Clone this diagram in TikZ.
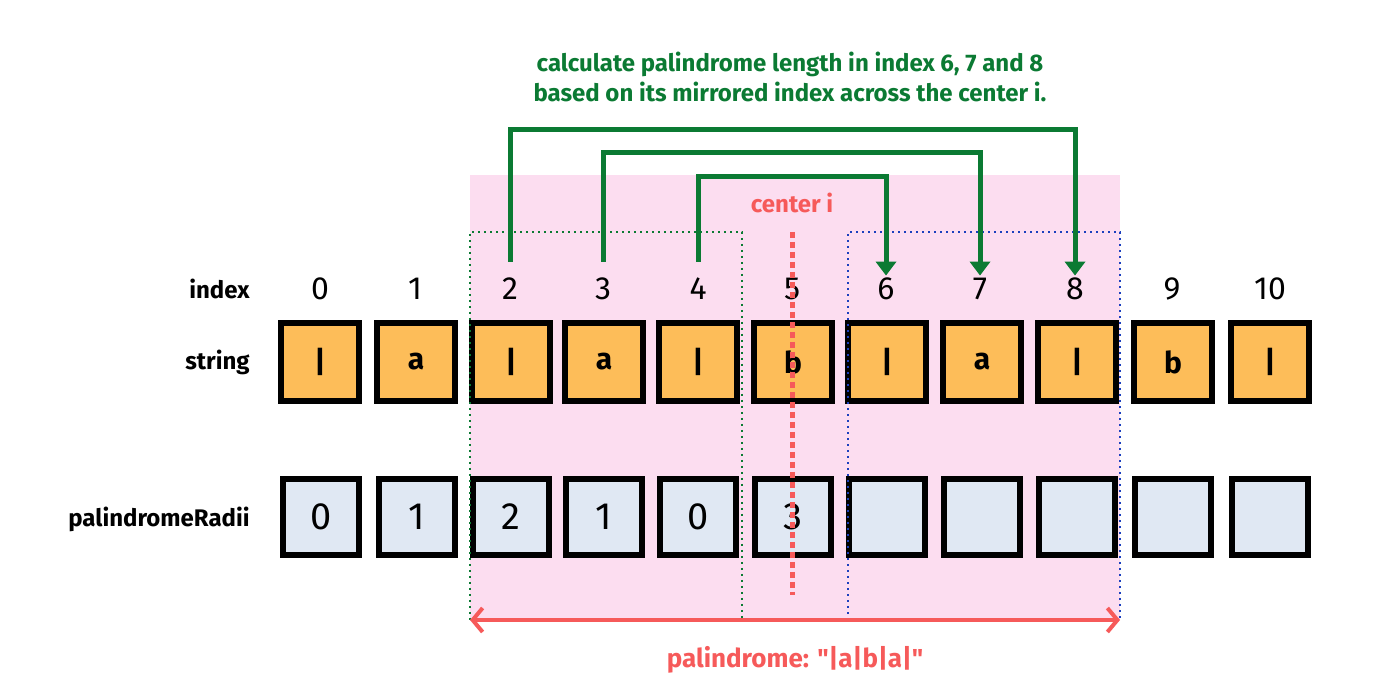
\documentclass[tikz,border=0pt]{standalone}
\usepackage{fontspec}
\setmainfont{Fira Sans}[Ligatures=TeXOff]
\usetikzlibrary{positioning}
\usetikzlibrary{arrows.meta}
\definecolor{boxorange}{HTML}{FDBD59}
\definecolor{boxgray}{HTML}{E0E8F3}
\definecolor{palpink}{HTML}{FCDDF0}
\definecolor{hintgreen}{HTML}{0B7A33}
\definecolor{centerred}{HTML}{F65A5A}
\definecolor{rightblue}{HTML}{1B3FBE}
\tikzset{
	strbox/.style={draw, line width=3pt, fill=boxorange, minimum size=39pt, inner sep=0pt, font=\fontsize{15}{15}\selectfont\bfseries},
	radbox/.style={draw, line width=3pt, fill=boxgray, minimum size=38pt, inner sep=0pt, font=\fontsize{19}{19}\selectfont},
	idx/.style={minimum height=27pt, inner sep=0pt, font=\fontsize{16}{16}\selectfont},
	rowlabel/.style={anchor=east, inner sep=0pt, font=\fontsize{12}{12}\selectfont\bfseries},
	mirror/.style={draw=hintgreen, line width=2.5pt, -{Triangle[width=10pt,length=7pt]}, shorten >=-7pt}
}

\begin{document}
\begin{tikzpicture}[x=0.5pt, y=0.5pt]
				\useasboundingbox (0,0) rectangle (1400,700);
				
				% palindrome around the center
				\fill[palpink] (470,80) rectangle (1120,525);
				
				\node[align=center, text=hintgreen, font=\fontsize{12}{15}\selectfont\bfseries] (hint) at (790,623) {calculate palindrome length in index 6, 7 and 8\\based on its mirrored index across the center i.};
				\node[text=centerred, font=\fontsize{12}{12}\selectfont\bfseries] (ctr) at (792,497) {center i};
				
				\node[rowlabel] (lidx) at (250,411) {index};
				\node[rowlabel] (lstr) at (250,338) {string};
				\node[rowlabel] (lrad) at (250,181) {palindromeRadii};
				
				\node[idx] (i0) at (320,411) {0};
				\node[idx] (i1) at (415,411) {1};
				\node[idx] (i2) at (510,411) {2};
				\node[idx] (i3) at (603,411) {3};
				\node[idx] (i4) at (698,411) {4};
				\node[idx] (i5) at (792,411) {5};
				\node[idx] (i6) at (886,411) {6};
				\node[idx] (i7) at (980,411) {7};
				\node[idx] (i8) at (1075,411) {8};
				\node[idx] (i9) at (1172,411) {9};
				\node[idx] (i10) at (1270,411) {10};
				
				\node[strbox] (s0) at (320,338) {|};
				\node[strbox] (s1) at (416,338) {a};
				\node[strbox] (s2) at (511,338) {|};
				\node[strbox] (s3) at (604,338) {a};
				\node[strbox] (s4) at (698,338) {|};
				\node[strbox] (s5) at (793,338) {b};
				\node[strbox] (s6) at (887,338) {|};
				\node[strbox] (s7) at (982,338) {a};
				\node[strbox] (s8) at (1077,338) {|};
				\node[strbox] (s9) at (1173,338) {b};
				\node[strbox] (s10) at (1270,338) {|};
				
				\node[radbox] (r0) at (321,183) {0};
				\node[radbox] (r1) at (417,183) {1};
				\node[radbox] (r2) at (511,183) {2};
				\node[radbox] (r3) at (604,183) {1};
				\node[radbox] (r4) at (698,183) {0};
				\node[radbox] (r5) at (793,183) {3};
				\node[radbox] (r6) at (887,183) {};
				\node[radbox] (r7) at (982,183) {};
				\node[radbox] (r8) at (1077,183) {};
				\node[radbox] (r9) at (1173,183) {};
				\node[radbox] (r10) at (1270,183) {};
				
				% left and right halves
				\draw[hintgreen, line width=1pt, dotted] (470,80) rectangle (742,468);
				\draw[rightblue, line width=1pt, dotted] (848,80) rectangle (1120,468);
				\draw[centerred, line width=2.5pt, dash pattern=on 3pt off 2pt] (792,468) -- (792,105);
				
				\draw[mirror] (i2.north) -- ++(0,132) -| (i8.north);
				\draw[mirror] (i3.north) -- ++(0,109) -| (i7.north);
				\draw[mirror] (i4.north) -- ++(0,85) -| (i6.north);
				
				\coordinate (pl) at (470,80);
				\coordinate (pr) at (1120,80);
				\draw[centerred, line width=2pt, {Straight Barb[length=5pt,width=12pt]}-{Straight Barb[length=5pt,width=12pt]}] (pl) -- (pr) node[midway, below=9pt, font=\fontsize{13}{13}\selectfont\bfseries] (pal) {palindrome: "|a|b|a|"};
			\end{tikzpicture}
\end{document}
